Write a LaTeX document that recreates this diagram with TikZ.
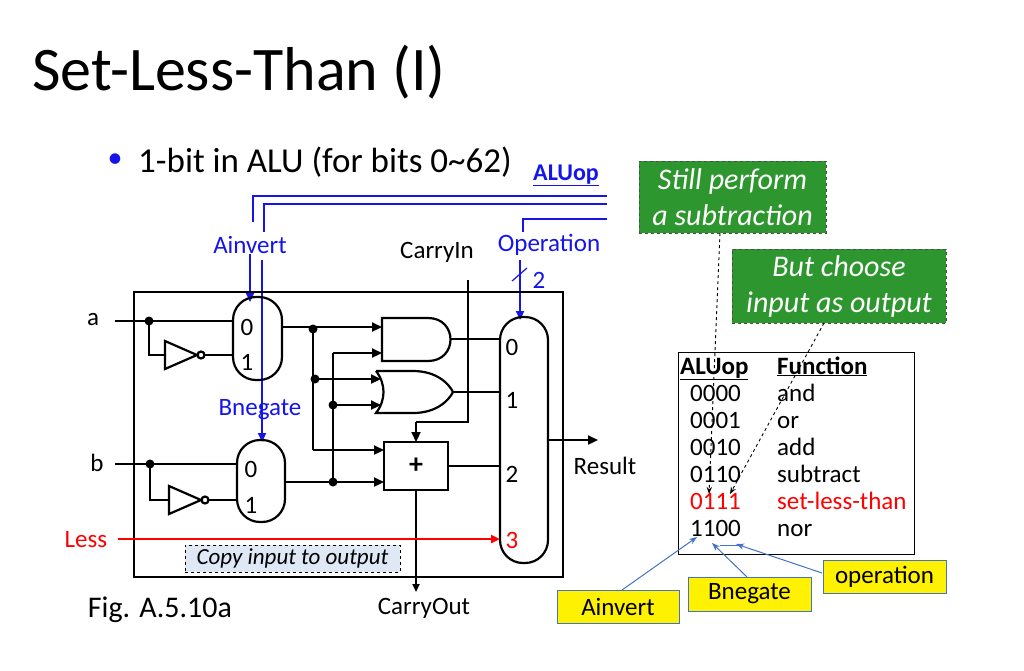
\documentclass[tikz,border=0pt]{standalone}
\usepackage{fontspec}
\setmainfont{Carlito}
\usetikzlibrary{arrows.meta}
\definecolor{bblue}{RGB}{20,20,235}
\definecolor{gbox}{RGB}{46,150,46}
\definecolor{abl}{RGB}{68,114,196}
\definecolor{cpy}{RGB}{222,233,245}
\begin{document}
\begin{tikzpicture}[x=1pt,y=-1pt,
  wire/.style={line width=2.2pt},
  arr/.style={wire,-{Triangle[length=10pt,width=9pt]}},
  barr/.style={line width=2.2pt,bblue,-{Triangle[length=9pt,width=8pt]}},
  dot/.style={circle,fill,inner sep=0pt,minimum size=9pt},
  lbl/.style={font=\fontsize{25}{27}\selectfont,inner sep=0pt},
  mux/.style={line width=2.2pt,rounded corners=23pt},
  gbx/.style={draw=black!70,dashed,fill=gbox,text=white,font=\fontsize{30}{36}\selectfont\itshape,align=center,inner sep=0pt},
  ybx/.style={draw=abl,line width=1pt,fill=yellow,font=\fontsize{25}{27}\selectfont,inner sep=0pt},
  tb/.style={font=\fontsize{25}{27}\selectfont,inner sep=0pt,anchor=base west}]
\useasboundingbox (0,0) rectangle (1024,670);
% title
\node[anchor=base west,font=\fontsize{62}{70}\selectfont,inner sep=0pt] (title) at (32,90) {Set-Less-Than (I)};
\node[bblue,font=\fontsize{30}{30}\selectfont,inner sep=0pt] (bul) at (115,161) {•};
\node[anchor=base west,font=\fontsize{35}{40}\selectfont,inner sep=0pt] (b1) at (138,172) {1-bit in ALU (for bits 0\textasciitilde62)};
\node[anchor=base west,bblue,font=\fontsize{24}{26}\selectfont\bfseries,inner sep=0pt] (aluop) at (533,180) {\underline{ALUop}};
% blue control lines
\draw[line width=2.2pt,bblue] (253,222) -- (253,196) -- (607,196);
\draw[line width=2.2pt,bblue] (264,232) -- (264,204) -- (607,204);
\draw[line width=2.2pt,bblue] (523,232) -- (523,219) -- (607,219);
\node[lbl,bblue] (ainv) at (250,245) {Ainvert};
\node[lbl,bblue] (bneg) at (260,410) {Bnegate};
\node[lbl] (cin) at (437,252) {CarryIn};
\node[lbl,bblue] (oper) at (549,245) {Operation};
\draw[barr] (250,254) -- (250,302);
\draw[barr] (262,260) -- (262,442);
\draw[barr] (520,260) -- (520,320);
\draw[line width=1.2pt,bblue] (512,281) -- (527,268);
\node[lbl,bblue] (two) at (539,280) {2};
% big box
\draw[line width=2.4pt] (134,292) rectangle (563,577);
% muxes
\draw[mux] (233,297) rectangle (282,380);
\node[lbl] (m0) at (247,327) {0};
\node[lbl] (m1) at (247,362) {1};
\draw[mux] (237,440) rectangle (285,522);
\node[lbl] (n0) at (251,469) {0};
\node[lbl] (n1) at (251,505) {1};
\draw[mux] (500,317) rectangle (548,563);
\node[lbl] (r0) at (512,347) {0};
\node[lbl] (r1) at (512,400) {1};
\node[lbl] (r2) at (512,474) {2};
\node[lbl,red] (r3) at (512,540) {3};
% a input
\node[lbl] (la) at (93,320) {a};
\draw[wire] (115,321) -- (233,321);
\node[dot] (da) at (149,321) {};
\draw[wire] (149,321) -- (149,355) -- (165,355);
\draw[wire] (165,341) -- (165,369) -- (197,355) -- cycle;
\draw[wire] (201,355) circle (3.5);
\draw[wire] (204.5,355) -- (233,355);
% b input
\node[lbl] (lb) at (97,463) {b};
\draw[wire] (115,464) -- (237,464);
\node[dot] (db) at (150,464) {};
\draw[wire] (150,464) -- (150,500) -- (169,500);
\draw[wire] (169,486) -- (169,514) -- (201,500) -- cycle;
\draw[wire] (205,500) circle (3.5);
\draw[wire] (208.5,500) -- (237,500);
% gates
\draw[wire] (382,318) -- (428,318) .. controls (458,318) and (458,361) .. (428,361) -- (382,361) -- cycle;
\draw[wire] (376,371) -- (413,371) .. controls (437,371) and (449,384) .. (453,392) .. controls (449,400) and (437,413) .. (413,413) -- (376,413) .. controls (386,400) and (386,384) .. (376,371);
\draw[wire] (384,442) rectangle (448,490);
\node[font=\fontsize{28}{28}\selectfont\bfseries,inner sep=0pt] (plus) at (416,466) {+};
% wiring A
\draw[arr] (282,327) -- (382,327);
\node[dot] (d1) at (313,329) {};
\draw[wire] (313,327) -- (313,450);
\draw[arr] (313,450) -- (384,450);
\node[dot] (d2) at (315,379) {};
\draw[arr] (315,379) -- (381,379);
% wiring B
\draw[arr] (285,482) -- (384,482);
\node[dot] (d3) at (333,482) {};
\draw[wire] (333,482) -- (333,353);
\draw[arr] (333,353) -- (382,353);
\node[dot] (d4) at (333,405) {};
\draw[arr] (333,405) -- (381,405);
% outputs to mux
\draw[wire] (450,339) -- (500,339);
\draw[wire] (453,392) -- (500,392);
\draw[wire] (448,466) -- (500,466);
% carry
\draw[wire] (468,280) -- (468,422) -- (416,422);
\draw[arr] (416,422) -- (416,442);
\draw[wire,-{Triangle[length=8pt,width=7pt]}] (416,490) -- (416,592);
\node[lbl] (cout) at (424,608) {CarryOut};
% result
\draw[arr] (548,440) -- (598,440);
\node[lbl] (res) at (605,466) {Result};
% less
\node[lbl,red] (less) at (86,540) {Less};
\draw[line width=2.2pt,red,-{Triangle[length=9pt,width=8pt]}] (118,539) -- (500,539);
\node[draw,dashed,fill=cpy,minimum width=215pt,minimum height=27pt,inner sep=0pt,font=\fontsize{23}{25}\selectfont\itshape] (copy) at (292.5,558.5) {Copy input to output};
\node[lbl,font=\fontsize{30}{32}\selectfont] (fig) at (160,610) {Fig. A.5.10a};
% green boxes
\node[gbx,minimum width=187pt,minimum height=72pt] (g1) at (732.5,197) {Still perform\\a subtraction};
\node[gbx,minimum width=214pt,minimum height=74pt] (g2) at (839,286) {But choose\\input as output};
% table
\draw[line width=1pt] (678,352) rectangle (914,554);
\node[tb,font=\fontsize{25}{27}\selectfont\bfseries] (h1) at (680,374) {\underline{ALUop}};
\node[tb,font=\fontsize{25}{27}\selectfont\bfseries] (h2) at (777,374) {\underline{Function}};
\foreach \c/\f/\y/\col in {0000/and/401/black,0001/or/428/black,0010/add/455/black,0110/subtract/482/black,0111/set-less-than/509/red,1100/nor/536/black}{
  \node[tb,\col] at (690,\y) {\c};
  \node[tb,\col] at (777,\y) {\f};
}
\draw[dashed,line width=0.9pt,-{Stealth[length=7pt]}] (g1.south -| 720,0) -- (709,494);
\draw[dashed,line width=0.9pt,-{Stealth[length=7pt]}] (824,323) -- (730,494);
% yellow boxes
\node[ybx,minimum width=122pt,minimum height=33pt] (ya) at (618,606.5) {Ainvert};
\node[ybx,minimum width=123pt,minimum height=34pt] (yb) at (749.5,594) {Bnegate};
\node[ybx,minimum width=123pt,minimum height=33pt] (yo) at (884.5,576.5) {operation};
\draw[abl,line width=1pt,-{Stealth[length=8pt]}] (622,590) -- (697,537);
\draw[abl,line width=1pt,-{Stealth[length=8pt]}] (747,577) -- (712,543);
\draw[abl,line width=1pt,-{Stealth[length=8pt]}] (822,573) -- (736,544);
\draw[abl,line width=1pt] (720,545) -- (743,545);
\end{tikzpicture}
\end{document}
